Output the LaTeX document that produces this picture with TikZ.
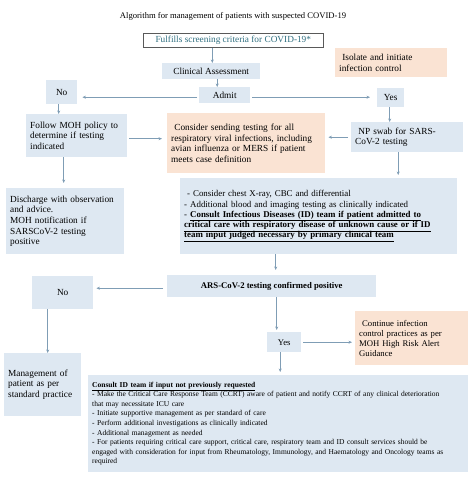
\documentclass[tikz,border=0pt]{standalone}
\usepackage{fontspec}
\setmainfont{Liberation Serif}
\definecolor{FlowBlue}{HTML}{DEE8F2}
\definecolor{FlowPeach}{HTML}{FAE3D3}
\definecolor{FlowArrow}{HTML}{7F9DB5}
\definecolor{FlowFrame}{HTML}{595959}
\definecolor{FlowTeal}{HTML}{2F6F80}
\usetikzlibrary{arrows.meta,positioning}
\newcommand{\ulbold}[1]{\textbf{\underline{#1}}}

\tikzset{
  flowbox/.style={
    anchor=north west,
    inner xsep=4pt,
    inner ysep=2pt,
    align=left,
    font=\fontsize{9.3}{10.6}\selectfont
  },
  bluebox/.style={flowbox, fill=FlowBlue},
  peachbox/.style={flowbox, fill=FlowPeach},
  flow/.style={
    draw=FlowArrow,
    line width=0.6pt,
    -{Stealth[length=3.5pt,width=3pt]}
  }
}

\begin{document}
\begin{tikzpicture}[x=1pt,y=-1pt]
  \useasboundingbox (0,0) rectangle (474,480);

  \node[font=\fontsize{8.6}{10}\selectfont] (title) at (233,16)
    {Algorithm for management of patients with suspected COVID-19};

  \node[
    flowbox,
    fill=white,
    draw=FlowFrame,
    line width=0.6pt,
    align=center,
    minimum width=180pt,
    minimum height=14pt,
    text=FlowTeal
  ] (screen) at (143,33) {Fulfills screening criteria for COVID-19*};

  \node[peachbox, text width=104pt, minimum height=29pt] (isolate) at (335,48)
    {\ Isolate and initiate\\infection control};
  \node[bluebox, align=center, minimum width=98pt, minimum height=16pt] (clinical) at (162,63)
    {Clinical Assessment};
  \node[bluebox, align=center, minimum width=51pt, minimum height=16pt] (admit) at (199,87)
    {Admit};
  \node[bluebox, align=center, minimum width=31pt, minimum height=24pt] (notop) at (46,80)
    {No};
  \node[bluebox, align=center, minimum width=27pt, minimum height=19pt] (yestop) at (377,88)
    {Yes};

  \node[bluebox, text width=93pt, minimum height=43pt] (policy) at (26,114)
    {Follow MOH policy to\\determine if testing\\indicated};
  \node[peachbox, text width=150pt, minimum height=60pt] (consider) at (167,113)
    {\ Consider sending testing for all\\respiratory viral infections, including\\avian influenza or MERS if patient\\meets case definition};
  \node[bluebox, text width=104pt, minimum height=30pt] (swab) at (351,122)
    {\ NP swab for SARS-\\CoV-2 testing};

  \node[bluebox, text width=110pt, minimum height=66pt] (discharge) at (6,188)
    {Discharge with observation\\and advice.\\MOH notification if\\SARSCoV-2 testing\\positive};
  \node[
    bluebox,
    text width=269pt,
    minimum height=76pt,
    font=\fontsize{8.9}{10.2}\selectfont
  ] (workup) at (180,178)
    {\ - Consider chest X-ray, CBC and differential\\
     - Additional blood and imaging testing as clinically indicated\\
     - \ulbold{Consult Infectious Diseases (ID) team if patient admitted to}\\
     \ulbold{critical care with respiratory disease of unknown cause or if ID}\\
     \ulbold{team input judged necessary by primary clinical team}};

  \node[
    bluebox,
    align=center,
    minimum width=209pt,
    minimum height=22pt,
    font=\bfseries\fontsize{8.7}{10}\selectfont
  ] (confirmed) at (167,275) {ARS-CoV-2 testing confirmed positive};
  \node[bluebox, align=center, minimum width=61pt, minimum height=33pt] (nobottom) at (32,276)
    {No};
  \node[bluebox, align=center, minimum width=34pt, minimum height=20pt, font=\fontsize{8.7}{10}\selectfont] (yesbottom) at (267,332)
    {Yes};
  \node[peachbox, text width=105pt, minimum height=54pt, font=\fontsize{8.7}{10}\selectfont] (continue) at (355,311)
    {\ Continue infection\\control practices as per\\MOH High Risk Alert\\Guidance};
  \node[bluebox, text width=69pt, minimum height=63pt] (standard) at (4,353)
    {Management of\\patient as per\\standard practice};
  \node[
    bluebox,
    text width=372pt,
    minimum height=97pt,
    font=\fontsize{7.5}{9.6}\selectfont
  ] (consult) at (88,375)
    {\ulbold{Consult ID team if input not previously requested}\\
     - Make the Critical Care Response Team (CCRT) aware of patient and notify CCRT of any clinical deterioration\\
     that may necessitate ICU care\\
     - Initiate supportive management as per standard of care\\
     - Perform additional investigations as clinically indicated\\
     - Additional management as needed\\
     - For patients requiring critical care support, critical care, respiratory team and ID consult services should be\\
     engaged with consideration for input from Rheumatology, Immunology, and Haematology and Oncology teams as\\
     required};

  % connectors
  \draw[flow] ([xshift=-21pt]screen.south) -- ([xshift=-21pt]screen.south |- clinical.north);
  \draw[flow] ([xshift=6pt]clinical.south) -- ([xshift=6pt]clinical.south |- admit.north);
  \draw[flow, shorten <=2pt, shorten >=5pt] ([yshift=-2pt]admit.west) -- ([yshift=-2pt]admit.west -| notop.east);
  \draw[flow, shorten <=2pt, shorten >=7pt] ([yshift=-2pt]admit.east) -- ([yshift=-2pt]admit.east -| yestop.west);
  \draw[flow] ([xshift=-3pt]notop.south) -- ([xshift=-3pt]notop.south |- policy.north);
  \draw[flow, shorten <=2pt, shorten >=5pt] ([yshift=-3pt]policy.east) -- ([yshift=-3pt]policy.east -| consider.west);
  \draw[flow, shorten <=3pt, shorten >=3pt] (swab.west) -- (swab.west -| consider.east);
  \draw[flow] ([xshift=-1pt]yestop.south) -- ([xshift=-1pt]yestop.south |- swab.north);
  \draw[flow, shorten >=5pt] ([xshift=-13pt]policy.south) -- ([xshift=-13pt]policy.south |- discharge.north);
  \draw[flow, shorten >=3pt] ([xshift=-9pt]swab.south) -- ([xshift=-9pt]swab.south |- workup.north);
  \draw[flow, shorten >=5pt] ([xshift=-43pt]workup.south) -- ([xshift=-43pt]workup.south |- confirmed.north);
  \draw[flow, shorten <=4pt, shorten >=3pt] ([yshift=-2pt]confirmed.west) -- ([yshift=-2pt]confirmed.west -| nobottom.east);
  \draw[flow, shorten >=2pt] ([xshift=5pt]confirmed.south) -- ([xshift=5pt]confirmed.south |- yesbottom.north);
  \draw[flow, shorten <=2pt, shorten >=3pt] (yesbottom.east) -- (yesbottom.east -| continue.west);
  \draw[flow] ([xshift=-15pt]nobottom.south) -- ([xshift=-15pt]nobottom.south |- standard.north);
  \draw[flow, shorten >=3pt] ([xshift=-4pt]yesbottom.south) -- ([xshift=-4pt]yesbottom.south |- consult.north);
\end{tikzpicture}
\end{document}
